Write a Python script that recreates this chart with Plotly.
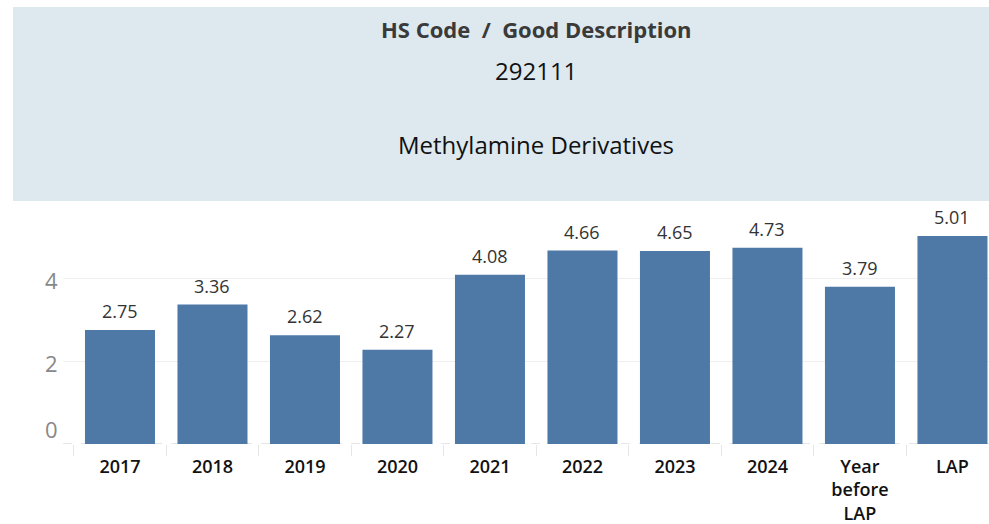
import plotly.graph_objects as go

categories = ["2017", "2018", "2019", "2020", "2021", "2022", "2023", "2024", "Year<br>before<br>LAP", "LAP"]
values = [2.75, 3.36, 2.62, 2.27, 4.08, 4.66, 4.65, 4.73, 3.79, 5.01]
value_labels = ["2.75", "3.36", "2.62", "2.27", "4.08", "4.66", "4.65", "4.73", "3.79", "5.01"]
y_ticks = [0, 2, 4]
y_tick_labels = ["0", "2", "4"]
header_title = "HS Code &nbsp;/ &nbsp;Good Description"
header_code = "292111"
header_desc = "Methylamine Derivatives"

W, H = 989, 524
L, R, T, B = 63, 0, 205, 80
plot_w = W - L - R
plot_h = H - T - B

def px_x(p):
    return (p - L) / plot_w

def px_y(p):
    return (H - B - p) / plot_h

fig = go.Figure()
fig.add_trace(go.Bar(
    x=categories, y=values,
    marker=dict(color="#4e79a7", line=dict(width=0)),
    width=0.757, hoverinfo="skip",
))

for i, (v, t) in enumerate(zip(values, value_labels)):
    fig.add_annotation(x=i, y=v, xref="x", yref="y", text=t, showarrow=False,
                       xanchor="center", yanchor="bottom", yshift=5,
                       font=dict(family="Open Sans", size=18, color="#333333"))

# header panel
fig.add_shape(type="rect", xref="paper", yref="paper",
              x0=px_x(13), x1=px_x(W + 5), y0=px_y(201), y1=px_y(7),
              fillcolor="#dde9ef", line=dict(width=0), layer="below")

annos = [
    dict(text="<b>" + header_title + "</b>", x=px_x(536), y=px_y(29),
         font=dict(family="Open Sans", size=22, color="#3a3a3a")),
    dict(text=header_code, x=px_x(536), y=px_y(70),
         font=dict(family="Open Sans", size=24, color="#111111")),
    dict(text=header_desc, x=px_x(536), y=px_y(144),
         font=dict(family="Open Sans", size=24, color="#111111")),
]
for a in annos:
    a.update(xref="paper", yref="paper", showarrow=False, xanchor="center", yanchor="middle")
    fig.add_annotation(**a)

for v, t in zip(y_ticks, y_tick_labels):
    fig.add_annotation(x=0, xref="paper", y=v, yref="y", text=t, showarrow=False,
                       xanchor="right", yanchor="middle", xshift=-3,
                       yshift=15 if v == 0 else -2,
                       font=dict(family="Open Sans", size=22, color="#888888"))

# dashed zero baseline
fig.add_shape(type="line", xref="paper", yref="y", x0=0, x1=1, y0=0, y1=0,
              line=dict(color="#cccccc", width=1, dash="dash"), layer="below")

fig.update_layout(
    width=W, height=H,
    margin=dict(l=L, r=R, t=T, b=B),
    paper_bgcolor="white", plot_bgcolor="white",
    showlegend=False, bargap=0.243,
    xaxis=dict(
        type="category", range=[-0.616, 9.395],
        tickson="boundaries", ticks="outside", ticklen=11, tickcolor="#e6e6e6", tickwidth=1,
        ticklabelstandoff=10,
        showgrid=False, showline=False, zeroline=False,
        tickfont=dict(family="Open Sans", size=18, color="#111111", weight=600),
    ),
    yaxis=dict(
        range=[0, plot_h / 41.5], tickvals=[2, 4], showticklabels=False,
        showgrid=True, gridcolor="#efefef", gridwidth=1,
        zeroline=False, showline=False, ticks="",
    ),
)

fig.write_html("out.html", config={"displayModeBar": False},
               post_script="document.body.style.margin='0';document.body.style.overflow='hidden';")
